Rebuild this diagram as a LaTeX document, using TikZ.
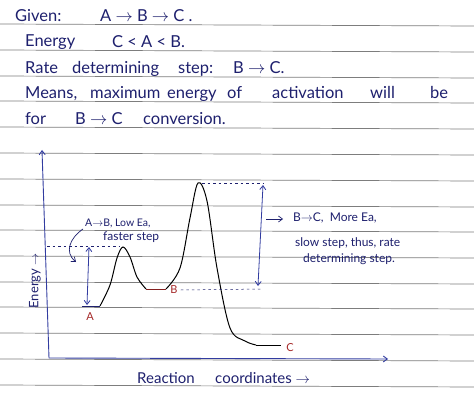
\documentclass[tikz,border=0pt]{standalone}
\usepackage{fontspec}
\setmainfont{Lato}
\usetikzlibrary{arrows.meta}
\definecolor{ink}{RGB}{30,32,110}
\definecolor{axis}{RGB}{50,60,160}
\definecolor{lab}{RGB}{165,40,40}
\definecolor{rule}{RGB}{125,125,125}
\tikzset{
  txt/.style={anchor=base west,inner sep=0pt,text=ink,font=\fontsize{16.5}{18}\selectfont},
  note/.style={anchor=base west,inner sep=0pt,text=ink,font=\fontsize{12}{14}\selectfont},
  smallnote/.style={anchor=base west,inner sep=0pt,text=ink,font=\fontsize{10.5}{12}\selectfont},
  ruleline/.style={draw=rule,line width=0.7pt},
  guide/.style={draw=ink,dashed,dash pattern=on 2.5pt off 3pt,line width=0.5pt},
  barb/.style={-{Straight Barb[length=4pt,width=6pt]}},
  dbl/.style={{Straight Barb[length=4pt,width=6pt]}-{Straight Barb[length=4pt,width=6pt]},draw=axis,line width=0.8pt},
  statelab/.style={inner sep=0pt,text=lab,font=\fontsize{11}{13}\selectfont}
}
\begin{document}
\begin{tikzpicture}[x=1pt,y=-1pt]
\useasboundingbox[fill=white] (0,0) rectangle (474,409);
% ruled lines
\foreach \yy in {24,50,76,101,127,153,179,205,230,256,282,307,333,359,385}
  \draw[ruleline] (0,\yy) -- (474,\yy+2);

% header text
\node[txt] (g1) at (15,22) {Given:};
\node[txt] (g2) at (100,22) {A $\rightarrow$ B $\rightarrow$ C .};
\node[txt] (e1) at (25,47) {Energy};
\node[txt] (e2) at (112,48) {C < A < B.};
\node[txt] (r1) at (25,74) {Rate};
\node[txt] (r2) at (72,74) {determining};
\node[txt] (r3) at (178,74) {step:};
\node[txt] (r4) at (233,74) {B $\rightarrow$ C.};
\node[txt] (m1) at (25,99) {Means,};
\node[txt] (m2) at (90,99) {maximum};
\node[txt] (m3) at (167,99) {energy};
\node[txt] (m4) at (227,99) {of};
\node[txt] (m5) at (272,99) {activation};
\node[txt] (m6) at (370,99) {will};
\node[txt] (m7) at (430,99) {be};
\node[txt] (f1) at (25,125) {for};
\node[txt] (f2) at (75,125) {B $\rightarrow$ C};
\node[txt] (f3) at (143,125) {conversion.};

% axes
\coordinate (origin) at (49,358);
\coordinate (ytop) at (42,150);
\coordinate (xend) at (388,359);
\draw[draw=axis,line width=0.9pt,barb] (origin) -- (ytop);
\draw[draw=axis,line width=0.9pt,barb] (origin) -- (xend);
\node[inner sep=0pt,text=ink,rotate=90,font=\fontsize{13}{15}\selectfont] (ylab) at (35,281) {Energy $\rightarrow$};
\node[txt,font=\fontsize{15}{17}\selectfont] (xl1) at (137,383) {Reaction};
\node[txt,font=\fontsize{15}{17}\selectfont] (xl2) at (215,383) {coordinates $\rightarrow$};

% energy profile
\coordinate (a0) at (82,306);
\coordinate (a1) at (100,306);
\coordinate (p1) at (123,247);
\coordinate (b0) at (146,289);
\coordinate (b1) at (166,289);
\coordinate (p2) at (198,183);
\coordinate (c0) at (256,345);
\coordinate (c1) at (281,345);
\draw[draw=ink,line width=1pt] (a0) -- (a1);
\draw[black,line width=1pt] plot[smooth,tension=0.55] coordinates {(a1) (110,285) (117,258) (p1) (130,257) (137,277) (b0)};
\draw[draw=lab!80!black,line width=1pt] (b0) -- (b1);
\draw[black,line width=1pt] plot[smooth,tension=0.55] coordinates {(b1) (180,268) (190,218) (p2) (207,201) (217,268) (230,328) (245,341) (c0)};
\draw[black,line width=1pt] (c0) -- (c1);

% state labels
\node[statelab] (la) at (90,317) {A};
\node[statelab] (lb) at (174,290) {B};
\node[statelab] (lc) at (290,348) {C};

% dashed guides
\coordinate (d1a) at (47,246);
\coordinate (d1b) at (119,246);
\coordinate (d2a) at (202,183);
\coordinate (d2b) at (263,183);
\coordinate (d3b) at (263,289);
\draw[guide] (d1a) -- (d1b);
\draw[guide] (d2a) -- (d2b);
\draw[guide] (lb.east) ++(3,0) -- (d3b);

% activation arrows
\coordinate (ea1t) at (89,247);
\coordinate (ea1b) at (87,305);
\draw[dbl] (ea1t) -- (ea1b);
\coordinate (ea2t) at (263,185);
\coordinate (ea2b) at (258,286);
\draw[dbl] (ea2t) -- (ea2b);

% annotations
\node[smallnote] (n1) at (85,226) {A$\rightarrow$B, Low Ea,};
\node[note] (n2) at (103,240) {faster step};
\coordinate (n1s) at (83,229);
\coordinate (n1e) at (76,262);
\draw[draw=ink,line width=0.7pt,barb] (n1s) .. controls (70,238) and (64,252) .. (n1e);

\coordinate (q0) at (266,219);
\coordinate (q1) at (283,219);
\draw[draw=ink,line width=0.7pt,barb] (q0) -- (q1);
\node[note] (n3) at (293,222) {B$\rightarrow$C,\ \ More Ea,};
\node[note] (n4) at (295,246) {slow step, thus, rate};
\node[note] (n5) at (303,262) {determining step.};
\end{tikzpicture}
\end{document}
